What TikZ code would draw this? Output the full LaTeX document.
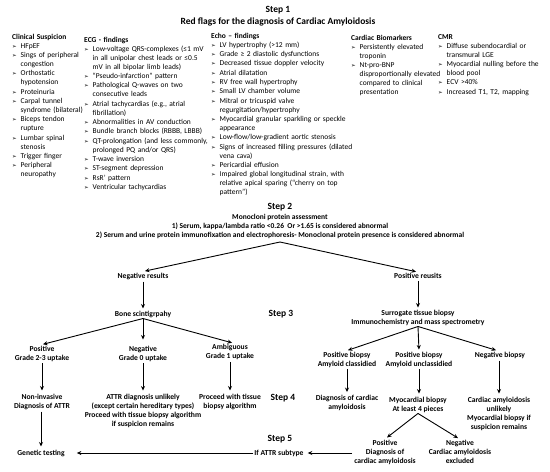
\documentclass[tikz,border=0pt]{standalone}
\usepackage{fontspec}
\setmainfont{Carlito}
\newfontfamily\djv{DejaVu Sans}
\usetikzlibrary{arrows.meta}
\newcommand\bul{{\djv\fontsize{5.5}{5}\selectfont ➢}}
\newcommand\li[1]{\par\noindent\hangindent=8.5pt\hangafter=1\makebox[8.5pt][l]{\bul}#1\par}
\newcommand\hd[1]{\par\noindent\textbf{#1}\par}
\tikzset{
  lst/.style={anchor=north west, inner sep=0pt, align=left, font=\fontsize{7.5}{9}\selectfont\setlength{\parskip}{0.3pt}},
  fl/.style={inner sep=1pt, align=center, font=\bfseries\fontsize{7.6}{9}\selectfont},
  sb/.style={inner sep=1pt, align=center, font=\bfseries\fontsize{7.5}{9}\selectfont},
  stp/.style={inner sep=0pt, font=\bfseries\fontsize{9.5}{11}\selectfont},
  arr/.style={-{Stealth[length=4.5pt,width=4pt]}, line width=0.9pt},
}
\begin{document}
\begin{tikzpicture}[x=1pt,y=-1pt]
\fill[white] (0,0) rectangle (550,472);
\useasboundingbox (0,0) rectangle (550,472);
% ---------- Step 1 ----------
\node[stp] (s1) at (278,10) {Step 1};
\node[stp] (rf) at (278,22) {Red flags for the diagnosis of Cardiac Amyloidosis};
\node[lst, text width=85pt] (clin) at (12,29.5) {\hd{Clinical Suspicion}
\li{HFpEF}
\li{Sings of peripheral\newline congestion}
\li{Orthostatic\newline hypotension}
\li{Proteinuria}
\li{Carpal tunnel\newline syndrome (bilateral)}
\li{Biceps tendon\newline rupture}
\li{Lumbar spinal\newline stenosis}
\li{Trigger finger}
\li{Peripheral\newline neuropathy}};
\node[lst, text width=135pt] (ecg) at (84,32.5) {\hd{ECG - findings}
\li{Low-voltage QRS-complexes (≤1 mV\newline in all unipolar chest leads  or ≤0.5\newline mV in all bipolar limb leads)}
\li{“Pseudo-infarction” pattern}
\li{Pathological Q-waves on two\newline consecutive leads}
\li{Atrial tachycardias (e.g., atrial\newline fibrillation)}
\li{Abnormalities in AV conduction}
\li{Bundle branch blocks (RBBB, LBBB)}
\li{QT-prolongation (and less commonly,\newline prolonged PQ and/or QRS)}
\li{T-wave inversion}
\li{ST-segment depression}
\li{RsR’ pattern}
\li{Ventricular tachycardias}};
\node[lst, text width=150pt] (echo) at (211,28.5) {\hd{Echo – findings}
\li{LV  hypertrophy (>12 mm)}
\li{Grade ≥ 2 diastolic dysfunctions}
\li{Decreased tissue doppler velocity}
\li{Atrial dilatation}
\li{RV free wall hypertrophy}
\li{Small LV chamber volume}
\li{Mitral or tricuspid valve\newline regurgitation/hypertrophy}
\li{Myocardial granular sparkling or speckle\newline appearance}
\li{Low-flow/low-gradient aortic stenosis}
\li{Signs of increased filling pressures (dilated\newline vena cava)}
\li{Pericardial effusion}
\li{Impaired global longitudinal strain, with\newline relative apical sparing (“cherry on top\newline pattern”)}};
\node[lst, text width=95pt] (bio) at (351,30.5) {\hd{Cardiac Biomarkers}
\li{Persistently elevated\newline troponin}
\li{Nt-pro-BNP\newline disproportionally elevated\newline compared to clinical\newline presentation}};
\node[lst, text width=112pt] (cmr) at (438,29.5) {\hd{CMR}
\li{Diffuse subendocardial or\newline transmural LGE}
\li{Myocardial nulling before the\newline blood pool}
\li{ECV >40\%}
\li{Increased T1, T2, mapping}};
% ---------- Step 2 ----------
\node[stp] (s2) at (280,207) {Step 2};
\node[sb] (mp) at (280,226) {Monocloni protein assessment\\1) Serum, kappa/lambda ratio <0.26 \ Or >1.65 is considered abnormal\\2) Serum and urine protein immunofixation and electrophoresis- Monoclonal protein presence is considered abnormal};
\coordinate (ap) at (280,242);
\node[fl] (neg) at (143,276) {Negative results};
\node[fl] (pos) at (418,276) {Positive reusits};
\draw[arr, shorten >=2pt] (ap) -- (neg.north);
\draw[arr, shorten >=2pt] (ap) -- (pos.north);
% ---------- Step 3 ----------
\node[stp] (s3) at (281,314) {Step 3};
\node[fl] (bone) at (143,314) {Bone scintigrpahy};
\draw[arr, shorten <=1pt, shorten >=1pt] (neg) -- (bone);
\node[fl] (g23) at (42,353.5) {Positive\\Grade 2-3 uptake};
\node[fl] (g0) at (143,353.5) {Negative\\Grade 0 uptake};
\node[fl] (g1) at (230,352) {Ambiguous\\Grade 1 uptake};
\draw[arr, shorten >=1pt] (bone.south) -- (g23.north);
\draw[arr, shorten >=5pt] (bone.south) -- (g0.north);
\draw[arr, shorten >=1pt] (bone.south) -- ([xshift=3pt]g1.north);
\node[fl] (sur) at (418,317.5) {Surrogate tissue biopsy\\Immunochemistry and mass spectrometry};
\draw[arr, shorten <=1pt, shorten >=1pt] (pos) -- (sur);
\node[fl] (pbc) at (347,359.5) {Positive biopsy\\Amyloid classidied};
\node[fl] (pbu) at (419,359.5) {Positive biopsy\\Amyloid unclassidied};
\node[fl] (nb) at (500,355) {Negative biopsy};
\draw[arr, shorten >=1pt] (sur.south) -- (pbc.north);
\draw[arr, shorten >=1pt] (sur.south) -- (pbu.north);
\draw[arr, shorten >=1pt] (sur.south) -- ([xshift=-3pt]nb.north);
% ---------- Step 4 ----------
\node[stp] (s4) at (283,398) {Step 4};
\node[fl] (ni) at (42,401.5) {Non-invasive\\Diagnosis of ATTR};
\node[fl] (un) at (143,410.5) {ATTR diagnosis unlikely\\(except certain hereditary types)\\Proceed with tissue biopsy algorithm\\if suspicion remains};
\node[fl] (pr) at (230,401.5) {Proceed with tissue\\biopsy algorithm};
\draw[arr, shorten <=1pt, shorten >=2pt] (g23.south -| ni.north) -- (ni.north);
\draw[arr, shorten <=1pt, shorten >=2pt] (g0.south) -- (un.north -| g0.south);
\draw[arr, shorten <=1pt, shorten >=2pt] (g1.south) -- (pr.north -| g1.south);
\node[fl] (dc) at (347,403) {Diagnosis of cardiac\\amyloidosis};
\node[fl] (mb) at (418,404.5) {Myocardial biopsy\\At least 4 pieces};
\node[fl] (cu) at (499,413.5) {Cardiac amyloidosis\\unlikely\\Myocardial biopsy if\\suspicion remains};
\draw[arr, shorten <=1pt, shorten >=2pt] (pbc.south) -- (dc.north);
\draw[arr, shorten <=1pt, shorten >=2pt] (pbu.south) -- (mb.north -| pbu.south);
\draw[arr, shorten <=1pt, shorten >=2pt] (nb.south -| cu.north) -- (cu.north);
% ---------- Step 5 ----------
\node[stp] (s5) at (280,439) {Step 5};
\node[fl] (gt) at (41,453) {Genetic testing};
\node[fl] (ia) at (279,453) {If ATTR subtype};
\node[fl] (pd) at (385,452) {Positive\\Diagnosis of\\cardiac amyloidosis};
\node[fl] (ne) at (460,452) {Negative\\Cardiac amyloidosis\\excluded};
\draw[arr] (mb.south) -- ([xshift=2pt,yshift=1pt]pd.north);
\draw[arr] (mb.south) -- ([xshift=-2pt,yshift=1pt]ne.north);
\draw[arr, shorten <=1pt, shorten >=2pt] (ni.south -| gt.north) -- (gt.north);
\draw[arr, shorten >=11pt] (ia.west) -- (gt.east);
\draw[arr, shorten <=1pt, shorten >=3pt] (pd.west |- ia.east) -- (ia.east);
\end{tikzpicture}
\end{document}
